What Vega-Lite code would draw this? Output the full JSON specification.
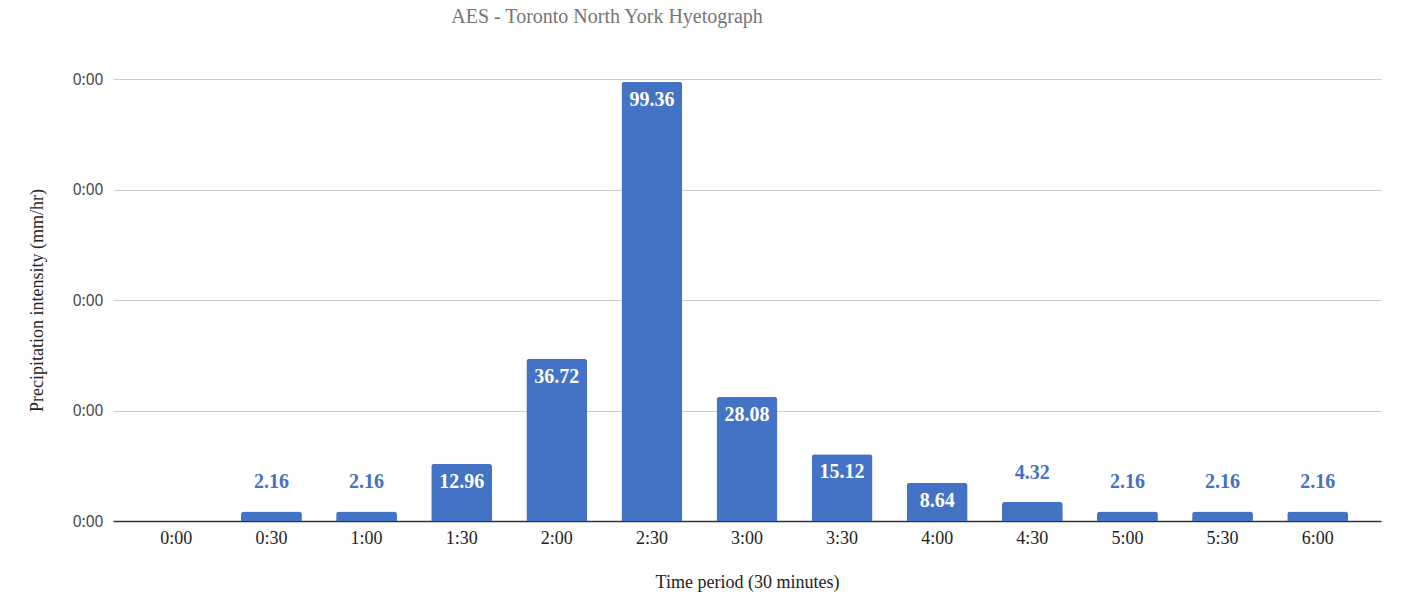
{
  "$schema": "https://vega.github.io/schema/vega-lite/v6.json",
  "autosize": {"type": "none"},
  "padding": {"left": 113, "top": 79, "right": 20, "bottom": 91},
  "width": 1268,
  "height": 442,
  "background": "white",
  "title": {
    "text": "AES - Toronto North York Hyetograph",
    "anchor": "start",
    "dx": 423,
    "offset": 45,
    "font": "Liberation Serif",
    "fontSize": 20,
    "fontWeight": "normal",
    "color": "#757575"
  },
  "config": {"view": {"stroke": null}},
  "data": {
    "values": [
      {"time": "0:00", "value": 0},
      {"time": "0:30", "value": 2.16},
      {"time": "1:00", "value": 2.16},
      {"time": "1:30", "value": 12.96},
      {"time": "2:00", "value": 36.72},
      {"time": "2:30", "value": 99.36},
      {"time": "3:00", "value": 28.08},
      {"time": "3:30", "value": 15.12},
      {"time": "4:00", "value": 8.64},
      {"time": "4:30", "value": 4.32},
      {"time": "5:00", "value": 2.16},
      {"time": "5:30", "value": 2.16},
      {"time": "6:00", "value": 2.16}
    ]
  },
  "encoding": {
    "x": {
      "field": "time",
      "type": "ordinal",
      "sort": null,
      "scale": {"paddingInner": 0.36, "paddingOuter": 0.346},
      "axis": {
        "title": "Time period (30 minutes)",
        "titleFont": "Liberation Serif",
        "titleFontSize": 18,
        "titleFontWeight": "normal",
        "titleColor": "#222",
        "titlePadding": 26,
        "labelFont": "Liberation Serif",
        "labelFontSize": 18,
        "labelColor": "#222",
        "labelAngle": 0,
        "labelPadding": 8,
        "ticks": false,
        "domainColor": "#333",
        "domainWidth": 1.5
      }
    },
    "y": {
      "field": "value",
      "type": "quantitative",
      "scale": {"domain": [0, 100], "nice": false},
      "axis": {
        "values": [0, 25, 50, 75, 100],
        "labelExpr": "'0:00'",
        "labelFont": "Noto Sans",
        "labelFontSize": 15.5,
        "labelColor": "#444",
        "labelPadding": 10,
        "ticks": false,
        "domain": false,
        "gridColor": "#cccccc",
        "title": "Precipitation intensity (mm/hr)",
        "titleFont": "Liberation Serif",
        "titleFontSize": 18,
        "titleFontWeight": "normal",
        "titleColor": "#222",
        "titlePadding": 26
      }
    }
  },
  "layer": [
    {
      "mark": {"type": "bar", "color": "#4472c4", "cornerRadiusTopLeft": 3, "cornerRadiusTopRight": 3}
    },
    {
      "transform": [{"filter": "datum.value > 6"}],
      "mark": {"type": "text", "baseline": "top", "dy": 8, "color": "white", "font": "Liberation Serif", "fontSize": 20, "fontWeight": "bold"},
      "encoding": {"text": {"field": "value", "type": "quantitative", "format": ".2f"}}
    },
    {
      "transform": [{"filter": "datum.value > 0 && datum.value <= 6"}],
      "mark": {"type": "text", "baseline": "alphabetic", "dy": -23, "color": "#4472c4", "font": "Liberation Serif", "fontSize": 20, "fontWeight": "bold"},
      "encoding": {"text": {"field": "value", "type": "quantitative", "format": ".2f"}}
    }
  ]
}
